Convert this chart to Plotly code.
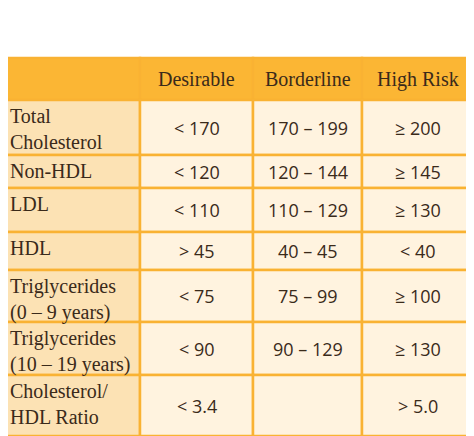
import plotly.graph_objects as go

title_lines = ["Interpreting Lipid Values (in mg/dL)", "for Children and Adolescents"]
columns = ["Desirable", "Borderline", "High Risk"]
row_labels = ["Total<br>Cholesterol", "Non-HDL", "LDL", "HDL",
              "Triglycerides<br>(0 – 9 years)", "Triglycerides<br>(10 – 19 years)",
              "Cholesterol/<br>HDL Ratio"]
desirable = ["< 170", "< 120", "< 110", "> 45", "< 75", "< 90", "< 3.4"]
borderline = ["170 – 199", "120 – 144", "110 – 129", "40 – 45", "75 – 99", "90 – 129", ""]
high_risk = ["≥ 200", "≥ 145", "≥ 130", "< 40", "≥ 100", "≥ 130", "> 5.0"]

# layout geometry (pixels)
col_edges = [0, 140, 253, 362, 474]
row_edges = [58, 100, 155, 188, 232, 270, 322, 375, 436]

HEAD = "#FBB634"
FIRST = "#FCE2B4"
BODY = "#FFF3DF"
LINE = "#F9B233"
TXT = "#3A2A1A"

fig = go.Figure()
shapes = []
ann = []


def cell(x0, x1, y0, y1, fill):
    shapes.append(dict(type="rect", xref="x", yref="y", x0=x0, x1=x1, y0=y0, y1=y1,
                       fillcolor=fill, line=dict(color=LINE, width=2.5), layer="below"))


# header
cell(col_edges[0], col_edges[1], row_edges[0], row_edges[1], HEAD)
for i, c in enumerate(columns):
    cell(col_edges[i + 1], col_edges[i + 2], row_edges[0], row_edges[1], HEAD)
    ann.append(dict(x=(col_edges[i + 1] + col_edges[i + 2]) / 2, y=(row_edges[0] + row_edges[1]) / 2,
                    text=c, showarrow=False, font=dict(family="Liberation Serif", size=20, color=TXT)))

for r, lab in enumerate(row_labels):
    y0, y1 = row_edges[r + 1], row_edges[r + 2]
    cell(col_edges[0], col_edges[1], y0, y1, FIRST)
    ann.append(dict(x=8, y=y0 + 3, text=lab, showarrow=False, xanchor="left", yanchor="top",
                    align="left", font=dict(family="Liberation Serif", size=20, color=TXT)))
    for i, vals in enumerate([desirable, borderline, high_risk]):
        cell(col_edges[i + 1], col_edges[i + 2], y0, y1, BODY)
        ann.append(dict(x=(col_edges[i + 1] + col_edges[i + 2]) / 2, y=(y0 + y1) / 2,
                        text=vals[r], showarrow=False,
                        font=dict(family="Open Sans", size=18, color=TXT)))

ann.append(dict(x=8, y=1, text="<b>" + "<br>".join(title_lines) + "</b>", showarrow=False,
                xanchor="left", yanchor="top", align="left",
                font=dict(family="Open Sans", size=18, color="#111111")))

fig.update_layout(width=474, height=436, margin=dict(l=0, r=0, t=0, b=0),
                  paper_bgcolor="white", plot_bgcolor="white",
                  shapes=shapes, annotations=ann, showlegend=False)
# page body has an 8px margin, so shift the view to line up with the window
fig.update_xaxes(range=[8, 482], visible=False, fixedrange=True)
fig.update_yaxes(range=[444, 8], visible=False, fixedrange=True)
fig.write_html("out.html")
